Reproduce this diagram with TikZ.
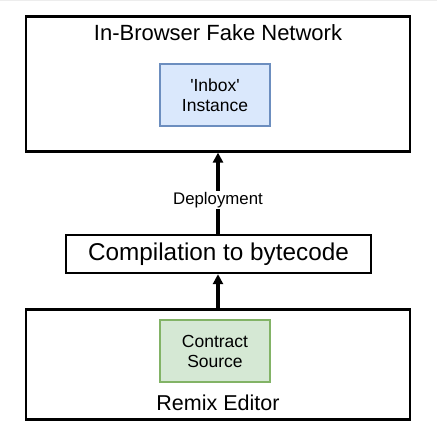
\documentclass[tikz,border=0pt]{standalone}
\usepackage{fontspec}
\setmainfont{Liberation Sans}
\usetikzlibrary{positioning,arrows.meta}
\definecolor{instblue}{HTML}{DAE8FC}
\definecolor{instblueline}{HTML}{6C8EBF}
\definecolor{srcgreen}{HTML}{D5E8D4}
\definecolor{srcgreenline}{HTML}{82B366}
\tikzset{
  envbox/.style={draw,line width=2.6pt,minimum width=384pt,anchor=north},
  innerbox/.style={draw,line width=1.6pt,minimum width=110pt,minimum height=62pt,align=center,font=\fontsize{17.5}{20}\selectfont},
  flow/.style={-{Triangle[length=10pt,width=10pt]},line width=3.2pt}
}
\begin{document}
\begin{tikzpicture}[x=1pt,y=-1pt]
  \useasboundingbox (0,0) rectangle (437,433);
  % faint page grid
  \draw[black!4,line width=0.4pt,step=12.25pt] (0,0) grid (437,-433);
  \draw[black!7,line width=0.5pt,step=49pt] (0,0) grid (437,-433);
  % top container
  \node[envbox,minimum height=135pt] (net) at (218,15) {};
  \node[font=\fontsize{22}{24}\selectfont] (nettitle) at (218,33) {In-Browser Fake Network};
  \node[innerbox,fill=instblue,draw=instblueline] (inbox) at (215,95) {\textquotesingle Inbox\textquotesingle\\Instance};
  % compilation step
  \node[draw,line width=2.4pt,minimum width=305pt,minimum height=38pt,font=\fontsize{24.3}{26}\selectfont] (comp) at (218.5,254) {Compilation to bytecode};
  % bottom container
  \node[envbox,minimum height=110pt] (remix) at (218,308) {};
  \node[innerbox,fill=srcgreen,draw=srcgreenline] (src) at (215,351) {Contract\\Source};
  \node[font=\fontsize{21.5}{24}\selectfont] (remixtitle) at (218,403) {Remix Editor};
  % arrows
  \draw[flow] (remix.north -| 218,0) -- (comp.south -| 218,0);
  \draw[flow] (comp.north -| 218,0) -- (net.south -| 218,0) node[pos=0.42,fill=white,inner sep=1pt,font=\fontsize{16.8}{18}\selectfont] (deploy) {Deployment};
\end{tikzpicture}
\end{document}
